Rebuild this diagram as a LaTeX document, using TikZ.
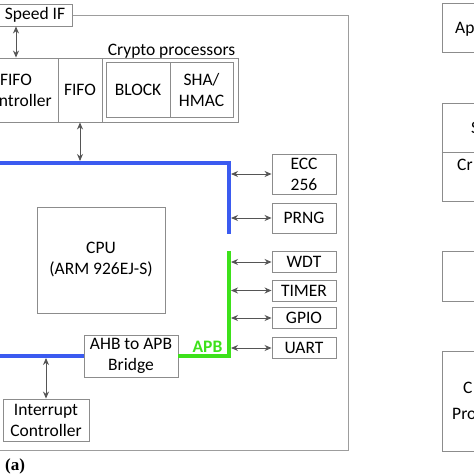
\documentclass[tikz,border=0pt]{standalone}
\usepackage{fontspec}
\setmainfont{Carlito}
\newfontfamily\serifbold{Liberation Serif}
\usetikzlibrary{arrows.meta}
\definecolor{boxgray}{HTML}{8C8C8C}
\definecolor{arrgray}{HTML}{555555}
\definecolor{busblue}{HTML}{3B5BF0}
\definecolor{busgreen}{HTML}{3DE11A}
\tikzset{
  box/.style={draw=boxgray, line width=0.9pt, fill=white, align=center, inner sep=0pt,
    font=\fontsize{17.5}{21}\selectfont},
  darr/.style={draw=arrgray, line width=0.9pt, {Stealth[length=7pt,width=6pt]}-{Stealth[length=7pt,width=6pt]}},
  frame/.style={draw=boxgray!85, line width=0.9pt},
  bluebus/.style={draw=busblue, line width=4pt},
  greenbus/.style={draw=busgreen, line width=4pt},
  lbl/.style={inner sep=0pt, font=\fontsize{17.5}{21}\selectfont},
}
\begin{document}
\begin{tikzpicture}[x=1pt,y=-1pt]
\useasboundingbox (0,0) rectangle (474,474);
\clip (0,0) rectangle (474,474);
% outer frame
\draw[frame] (-10,15) -- (348,15) -- (348,450) -- (-10,450);
% top blocks
\node[box, minimum width=74pt, minimum height=22pt] (speed) at (35,15) {Speed IF};
\node[box, minimum width=84pt, minimum height=64pt] (fifoctl) at (16,90) {FIFO\\Controller};
\node[box, minimum width=44pt, minimum height=64pt] (fifo) at (80,90) {FIFO};
\node[box, minimum width=136pt, minimum height=64pt] (crypto) at (170,90) {};
\node[box, minimum width=64pt, minimum height=55pt] (block) at (138,89.5) {BLOCK};
\node[box, minimum width=63pt, minimum height=55pt] (sha) at (201.5,89.5) {SHA/\\HMAC};
\node[lbl, anchor=base] (cryptolbl) at (171.5,55.5) {Crypto processors};
% CPU, bridge, interrupt controller
\node[box, minimum width=128pt, minimum height=106pt] (cpu) at (101,260) {CPU\\(ARM 926EJ-S)};
\node[box, minimum width=94pt, minimum height=42pt] (bridge) at (131,356) {AHB to APB\\Bridge};
\node[box, minimum width=86pt, minimum height=42pt] (intc) at (46,420) {Interrupt\\Controller};
% peripherals
\node[box, minimum width=64pt, minimum height=40pt] (ecc) at (304,174) {ECC\\256};
\node[box, minimum width=64pt, minimum height=30pt] (prng) at (304,218) {PRNG};
\node[box, minimum width=64pt, minimum height=21pt] (wdt) at (304,262) {WDT};
\node[box, minimum width=64pt, minimum height=21pt] (timer) at (304,290.5) {TIMER};
\node[box, minimum width=64pt, minimum height=21pt] (gpio) at (304,318) {GPIO};
\node[box, minimum width=64pt, minimum height=21pt] (uart) at (304,348) {UART};
% buses
\coordinate (bluecorner) at (229,163);
\coordinate (blueend) at (229,234);
\coordinate (blueleft) at (-10,163);
\coordinate (greentop) at (229,251);
\coordinate (greencorner) at (229,356);
\coordinate (lowleft) at (-10,356);
\draw[bluebus] (blueleft) -- (bluecorner) -- (blueend);
\draw[bluebus] (lowleft) -- (bridge.west);
\draw[greenbus] (greentop) -- (greencorner) -- (bridge.east);
\node[lbl, anchor=base, text=busgreen, font=\fontsize{17.5}{21}\selectfont\bfseries] (apb) at (207.5,352) {APB};
% connectors
\coordinate (busR) at (231,0);
\coordinate (bustop) at (0,161);
\coordinate (busbot) at (0,358);
\draw[darr] (fifoctl.north |- speed.south) -- (fifoctl.north);
\draw[darr] (fifo.south) -- (fifo.south |- bustop);
\draw[darr] (intc.north |- busbot) -- (intc.north);
\foreach \p in {ecc,prng,wdt,timer,gpio,uart}{
  \draw[darr] (\p.west -| busR) -- (\p.west);
}
% right column (partially visible)
\node[box, minimum width=96pt, minimum height=49pt] (r1) at (490,27.5) {};
\node[box, minimum width=96pt, minimum height=98pt] (r2) at (490,152) {};
\draw[draw=boxgray, line width=0.9pt] (r2.west) -- (r2.east);
\node[box, minimum width=96pt, minimum height=50pt] (r3) at (490,276) {};
\node[box, minimum width=96pt, minimum height=100pt] (r4) at (490,401) {};
\node[lbl, anchor=base west] (t1) at (455,33) {Ap};
\node[lbl, anchor=base west] (t2) at (471,133) {S};
\node[lbl, anchor=base west] (t3) at (457,170) {Cr};
\node[lbl, anchor=base west] (t4) at (463,393) {C};
\node[lbl, anchor=base west] (t5) at (452,419) {Pro};
% caption
\node[inner sep=0pt, anchor=base west, font=\serifbold\fontsize{17}{20}\selectfont\bfseries] (cap) at (5,470) {(a)};
\end{tikzpicture}
\end{document}
